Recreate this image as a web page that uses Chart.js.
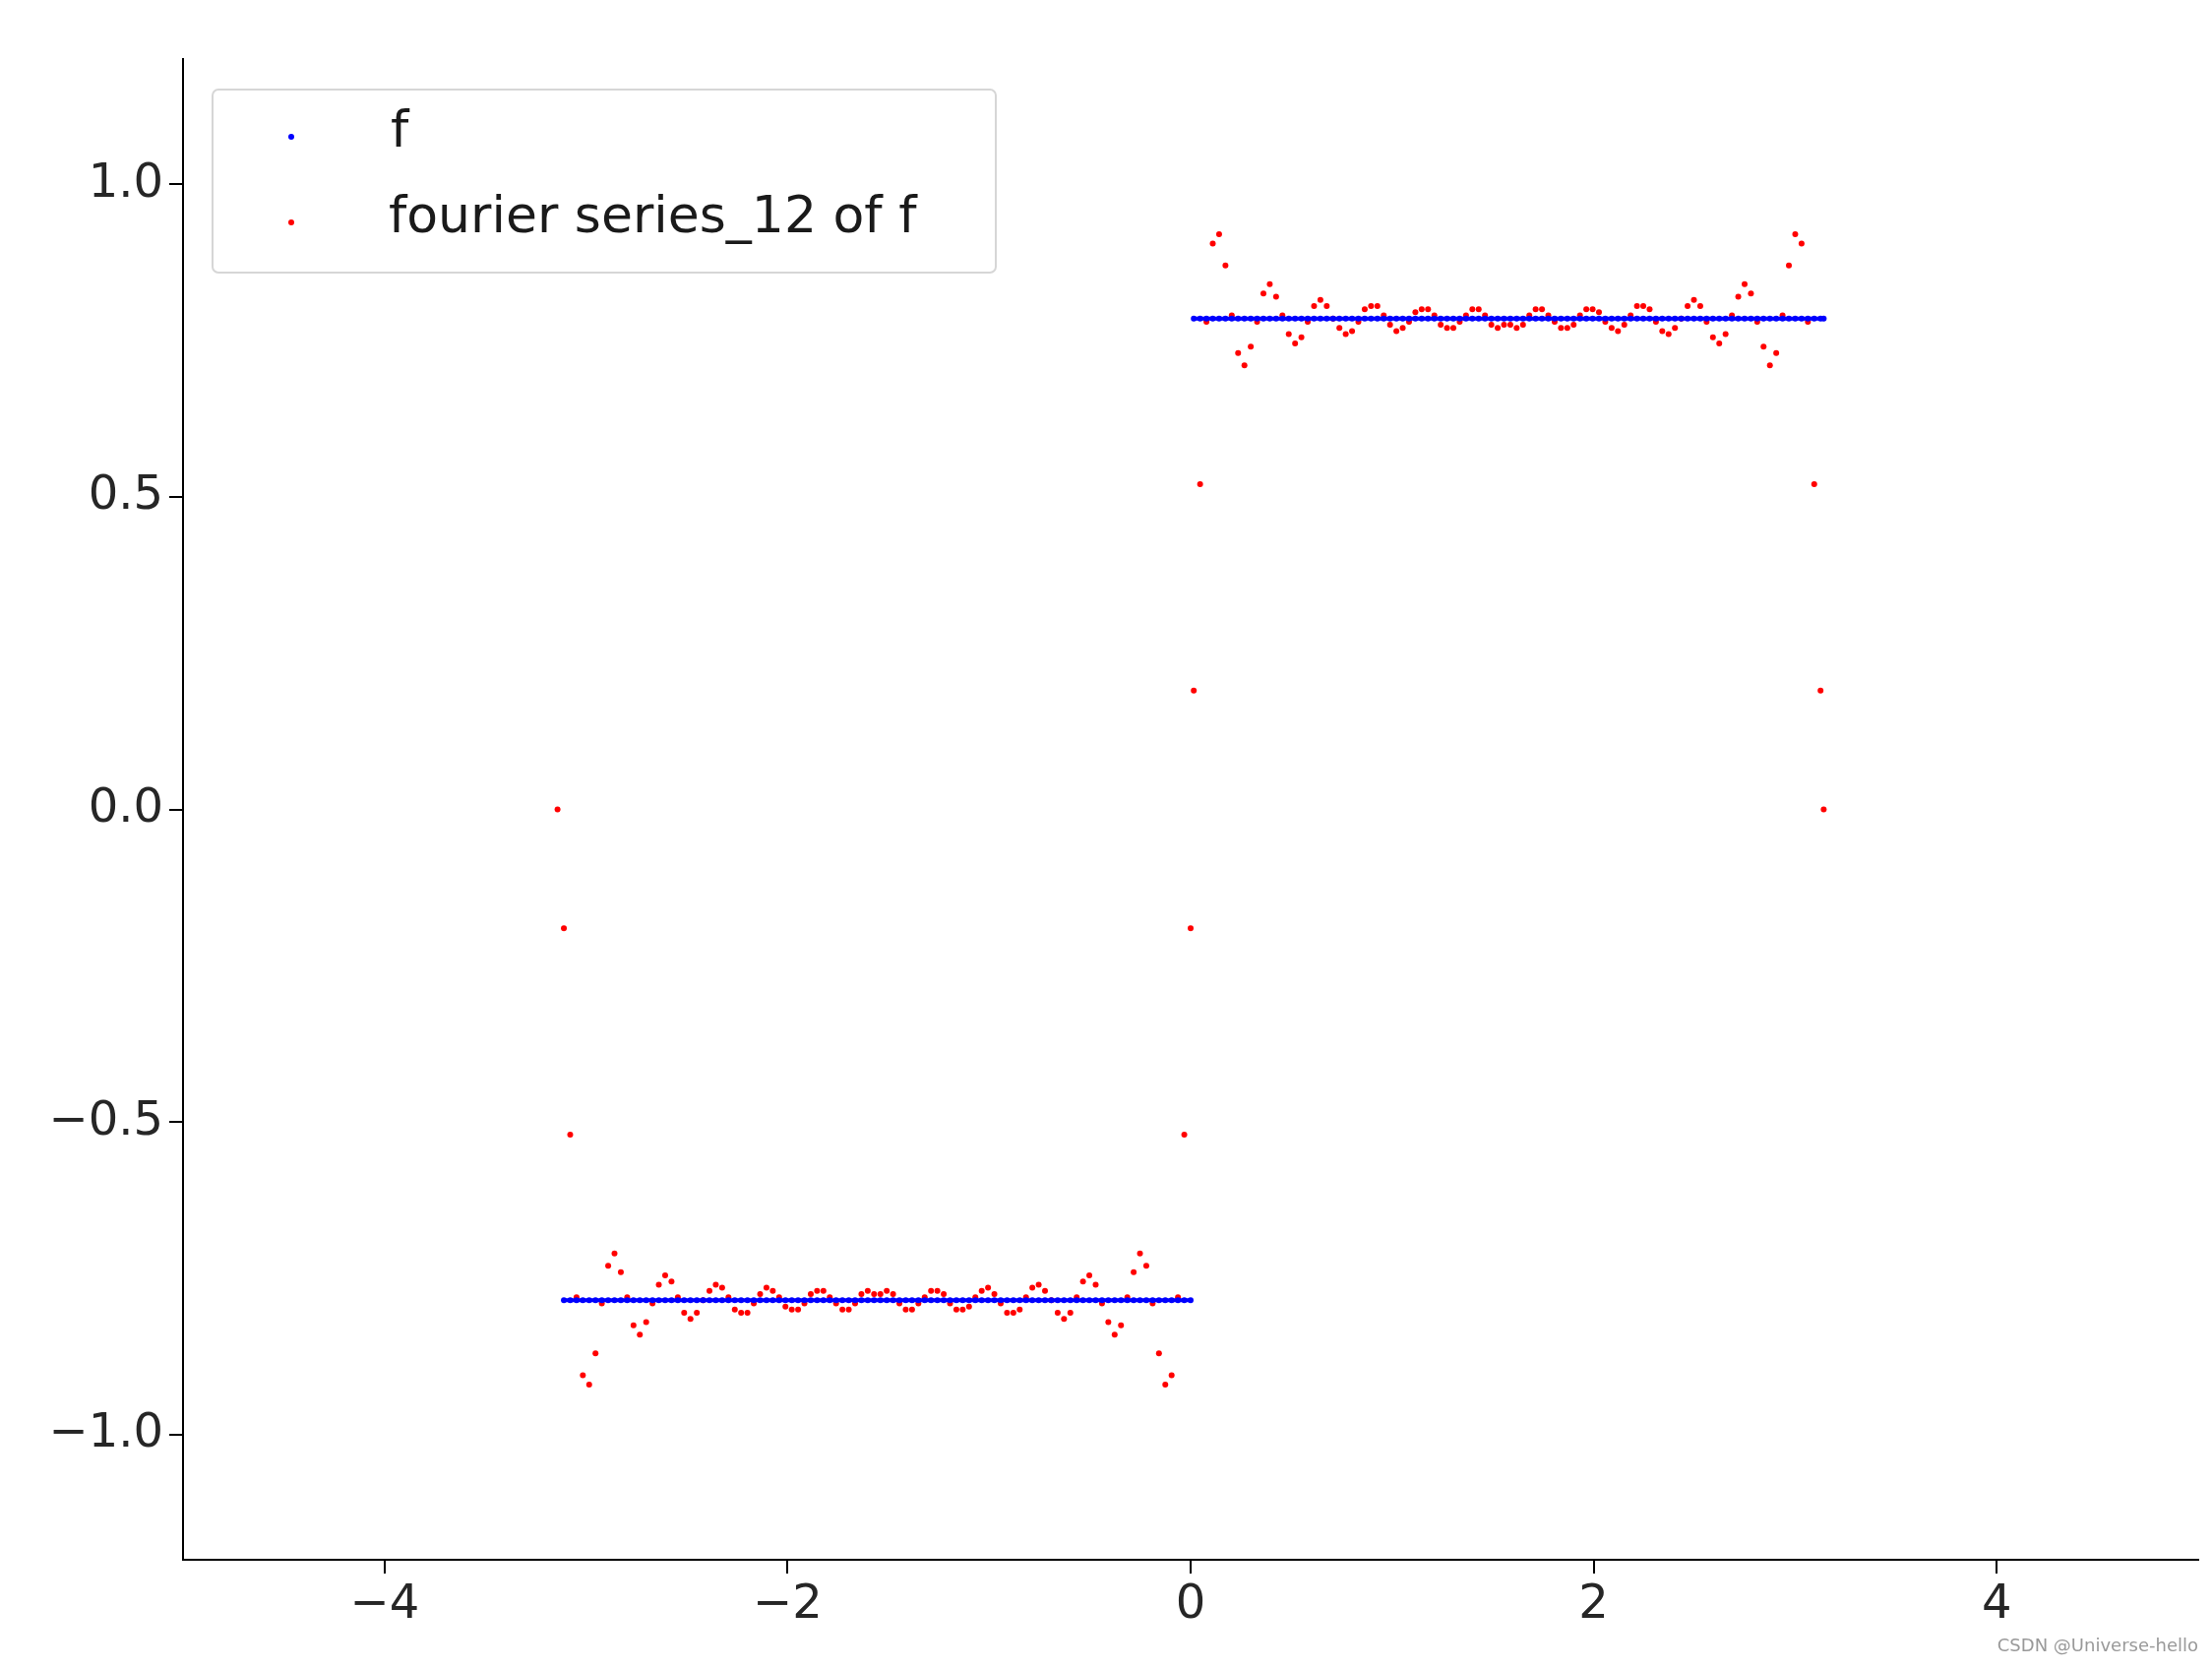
<!DOCTYPE html>
<html>
<head>
<meta charset="utf-8">
<script src="https://cdn.jsdelivr.net/npm/chart.js@4"></script>
<style>
  html, body { margin: 0; padding: 0; background: #fff; }
  #wrap { position: relative; width: 2248px; height: 1696px; }
  #mark { position: absolute; right: 14px; bottom: 14px; font: 18px "DejaVu Sans"; color: #999; }
</style>
</head>
<body>
<div id="wrap">
  <canvas id="chart" width="2248" height="1696"></canvas>
  <div id="mark">CSDN @Universe-hello</div>
</div>
<script>
// values
const xTicks = [-4, -2, 0, 2, 4];
const yTicks = [-1.0, -0.5, 0.0, 0.5, 1.0];
const fLevels = [-0.785, 0.785];

// fourier series (12 terms), right half x in (0, pi], sampled evenly
const seriesPos = [
  0.19, 0.52, 0.78, 0.905, 0.92, 0.87, 0.79, 0.73, 0.71, 0.74,
  0.78, 0.825, 0.84, 0.82, 0.79, 0.76, 0.745, 0.755, 0.78, 0.805,
  0.815, 0.805, 0.785, 0.77, 0.76, 0.765, 0.78, 0.80, 0.805, 0.805,
  0.79, 0.775, 0.765, 0.77, 0.78, 0.795, 0.80, 0.80, 0.79, 0.775,
  0.77, 0.77, 0.78, 0.79, 0.80, 0.80, 0.79, 0.775, 0.77, 0.775,
  0.775, 0.77, 0.775, 0.79, 0.80, 0.80, 0.79, 0.78, 0.77, 0.77,
  0.775, 0.79, 0.80, 0.80, 0.795, 0.78, 0.77, 0.765, 0.775, 0.79,
  0.805, 0.805, 0.80, 0.78, 0.765, 0.76, 0.77, 0.785, 0.805, 0.815,
  0.805, 0.78, 0.755, 0.745, 0.76, 0.79, 0.82, 0.84, 0.825, 0.78,
  0.74, 0.71, 0.73, 0.79, 0.87, 0.92, 0.905, 0.78, 0.52, 0.19,
  0.0
];
// left half x in [-pi, 0)
const seriesNeg = [
  0.0,
  -0.19, -0.52, -0.78, -0.905, -0.92, -0.87, -0.79, -0.73, -0.71, -0.74,
  -0.78, -0.825, -0.84, -0.82, -0.79, -0.76, -0.745, -0.755, -0.78, -0.805,
  -0.815, -0.805, -0.785, -0.77, -0.76, -0.765, -0.78, -0.80, -0.805, -0.805,
  -0.79, -0.775, -0.765, -0.77, -0.78, -0.795, -0.80, -0.80, -0.79, -0.775,
  -0.77, -0.77, -0.78, -0.79, -0.80, -0.80, -0.79, -0.775, -0.77, -0.775,
  -0.775, -0.77, -0.775, -0.79, -0.80, -0.80, -0.79, -0.78, -0.77, -0.77,
  -0.775, -0.79, -0.80, -0.80, -0.795, -0.78, -0.77, -0.765, -0.775, -0.79,
  -0.805, -0.805, -0.80, -0.78, -0.765, -0.76, -0.77, -0.785, -0.805, -0.815,
  -0.805, -0.78, -0.755, -0.745, -0.76, -0.79, -0.82, -0.84, -0.825, -0.78,
  -0.74, -0.71, -0.73, -0.79, -0.87, -0.92, -0.905, -0.78, -0.52, -0.19
];

// sample grid
const step = Math.PI / 100;
const fPts = [], sPts = [];
seriesNeg.forEach((v, i) => {
  const x = -Math.PI + i * step;
  sPts.push({x: x, y: v});
  if (i > 0) fPts.push({x: x, y: fLevels[0]});
});
fPts.push({x: 0, y: null}); // break at the jump
seriesPos.forEach((v, i) => {
  const x = i < 100 ? (i + 0.5) * step : Math.PI;
  sPts.push({x: x, y: v});
  fPts.push({x: x, y: fLevels[1]});
});

const tickFont = { family: 'DejaVu Sans', size: 48 };
const fmt = v => (v < 0 ? '\u2212' : '') + Math.abs(v);

const legendBox = {
  id: 'legendBox',
  afterDraw(chart) {
    const c = chart.ctx;
    c.save();
    c.fillStyle = 'rgba(255,255,255,0.8)';
    c.strokeStyle = '#d6d6d6';
    c.lineWidth = 2;
    c.beginPath();
    c.roundRect(216, 91, 796, 186, 6);
    c.fill(); c.stroke();
    c.font = '52px "DejaVu Sans"';
    c.fillStyle = '#1a1a1a';
    c.textBaseline = 'middle';
    c.fillText('f', 397, 135);
    c.fillText('fourier series_12 of f', 395, 222);
    c.fillStyle = 'blue';
    c.beginPath(); c.arc(296, 139, 3, 0, 7); c.fill();
    c.fillStyle = 'red';
    c.beginPath(); c.arc(296, 226, 3, 0, 7); c.fill();
    c.restore();
  }
};

new Chart('chart', {
  type: 'scatter',
  data: {
    datasets: [
      { label: 'f', data: fPts, pointRadius: 3, pointBorderWidth: 0,
        backgroundColor: 'blue', borderColor: 'blue',
        showLine: true, spanGaps: false, borderWidth: 4 },
      { label: 'fourier series_12 of f', data: sPts, pointRadius: 3, pointBorderWidth: 0,
        backgroundColor: 'red', borderColor: 'red' }
    ]
  },
  options: {
    responsive: false,
    animation: false,
    layout: { padding: { top: 60, right: 14, left: 0, bottom: 0 } },
    plugins: { legend: { display: false }, tooltip: { enabled: false } },
    scales: {
      x: {
        min: -5, max: 5,
        afterBuildTicks: s => { s.ticks = xTicks.map(v => ({value: v})); },
        afterFit: s => { s.height = 111; },
        ticks: { font: tickFont, color: '#262626', callback: fmt, maxRotation: 0, padding: 4 },
        grid: { drawOnChartArea: false, tickLength: 14, color: '#000', lineWidth: 2 },
        border: { color: '#000', width: 2 }
      },
      y: {
        min: -1.2, max: 1.2,
        afterBuildTicks: s => { s.ticks = yTicks.map(v => ({value: v})); },
        afterFit: s => { s.width = 186; },
        ticks: { font: tickFont, color: '#262626', padding: 6,
          callback: v => (v < 0 ? '\u2212' : '') + Math.abs(v).toFixed(1) },
        grid: { drawOnChartArea: false, tickLength: 14, color: '#000', lineWidth: 2 },
        border: { color: '#000', width: 2 }
      }
    }
  },
  plugins: [legendBox]
});
</script>
</body>
</html>
